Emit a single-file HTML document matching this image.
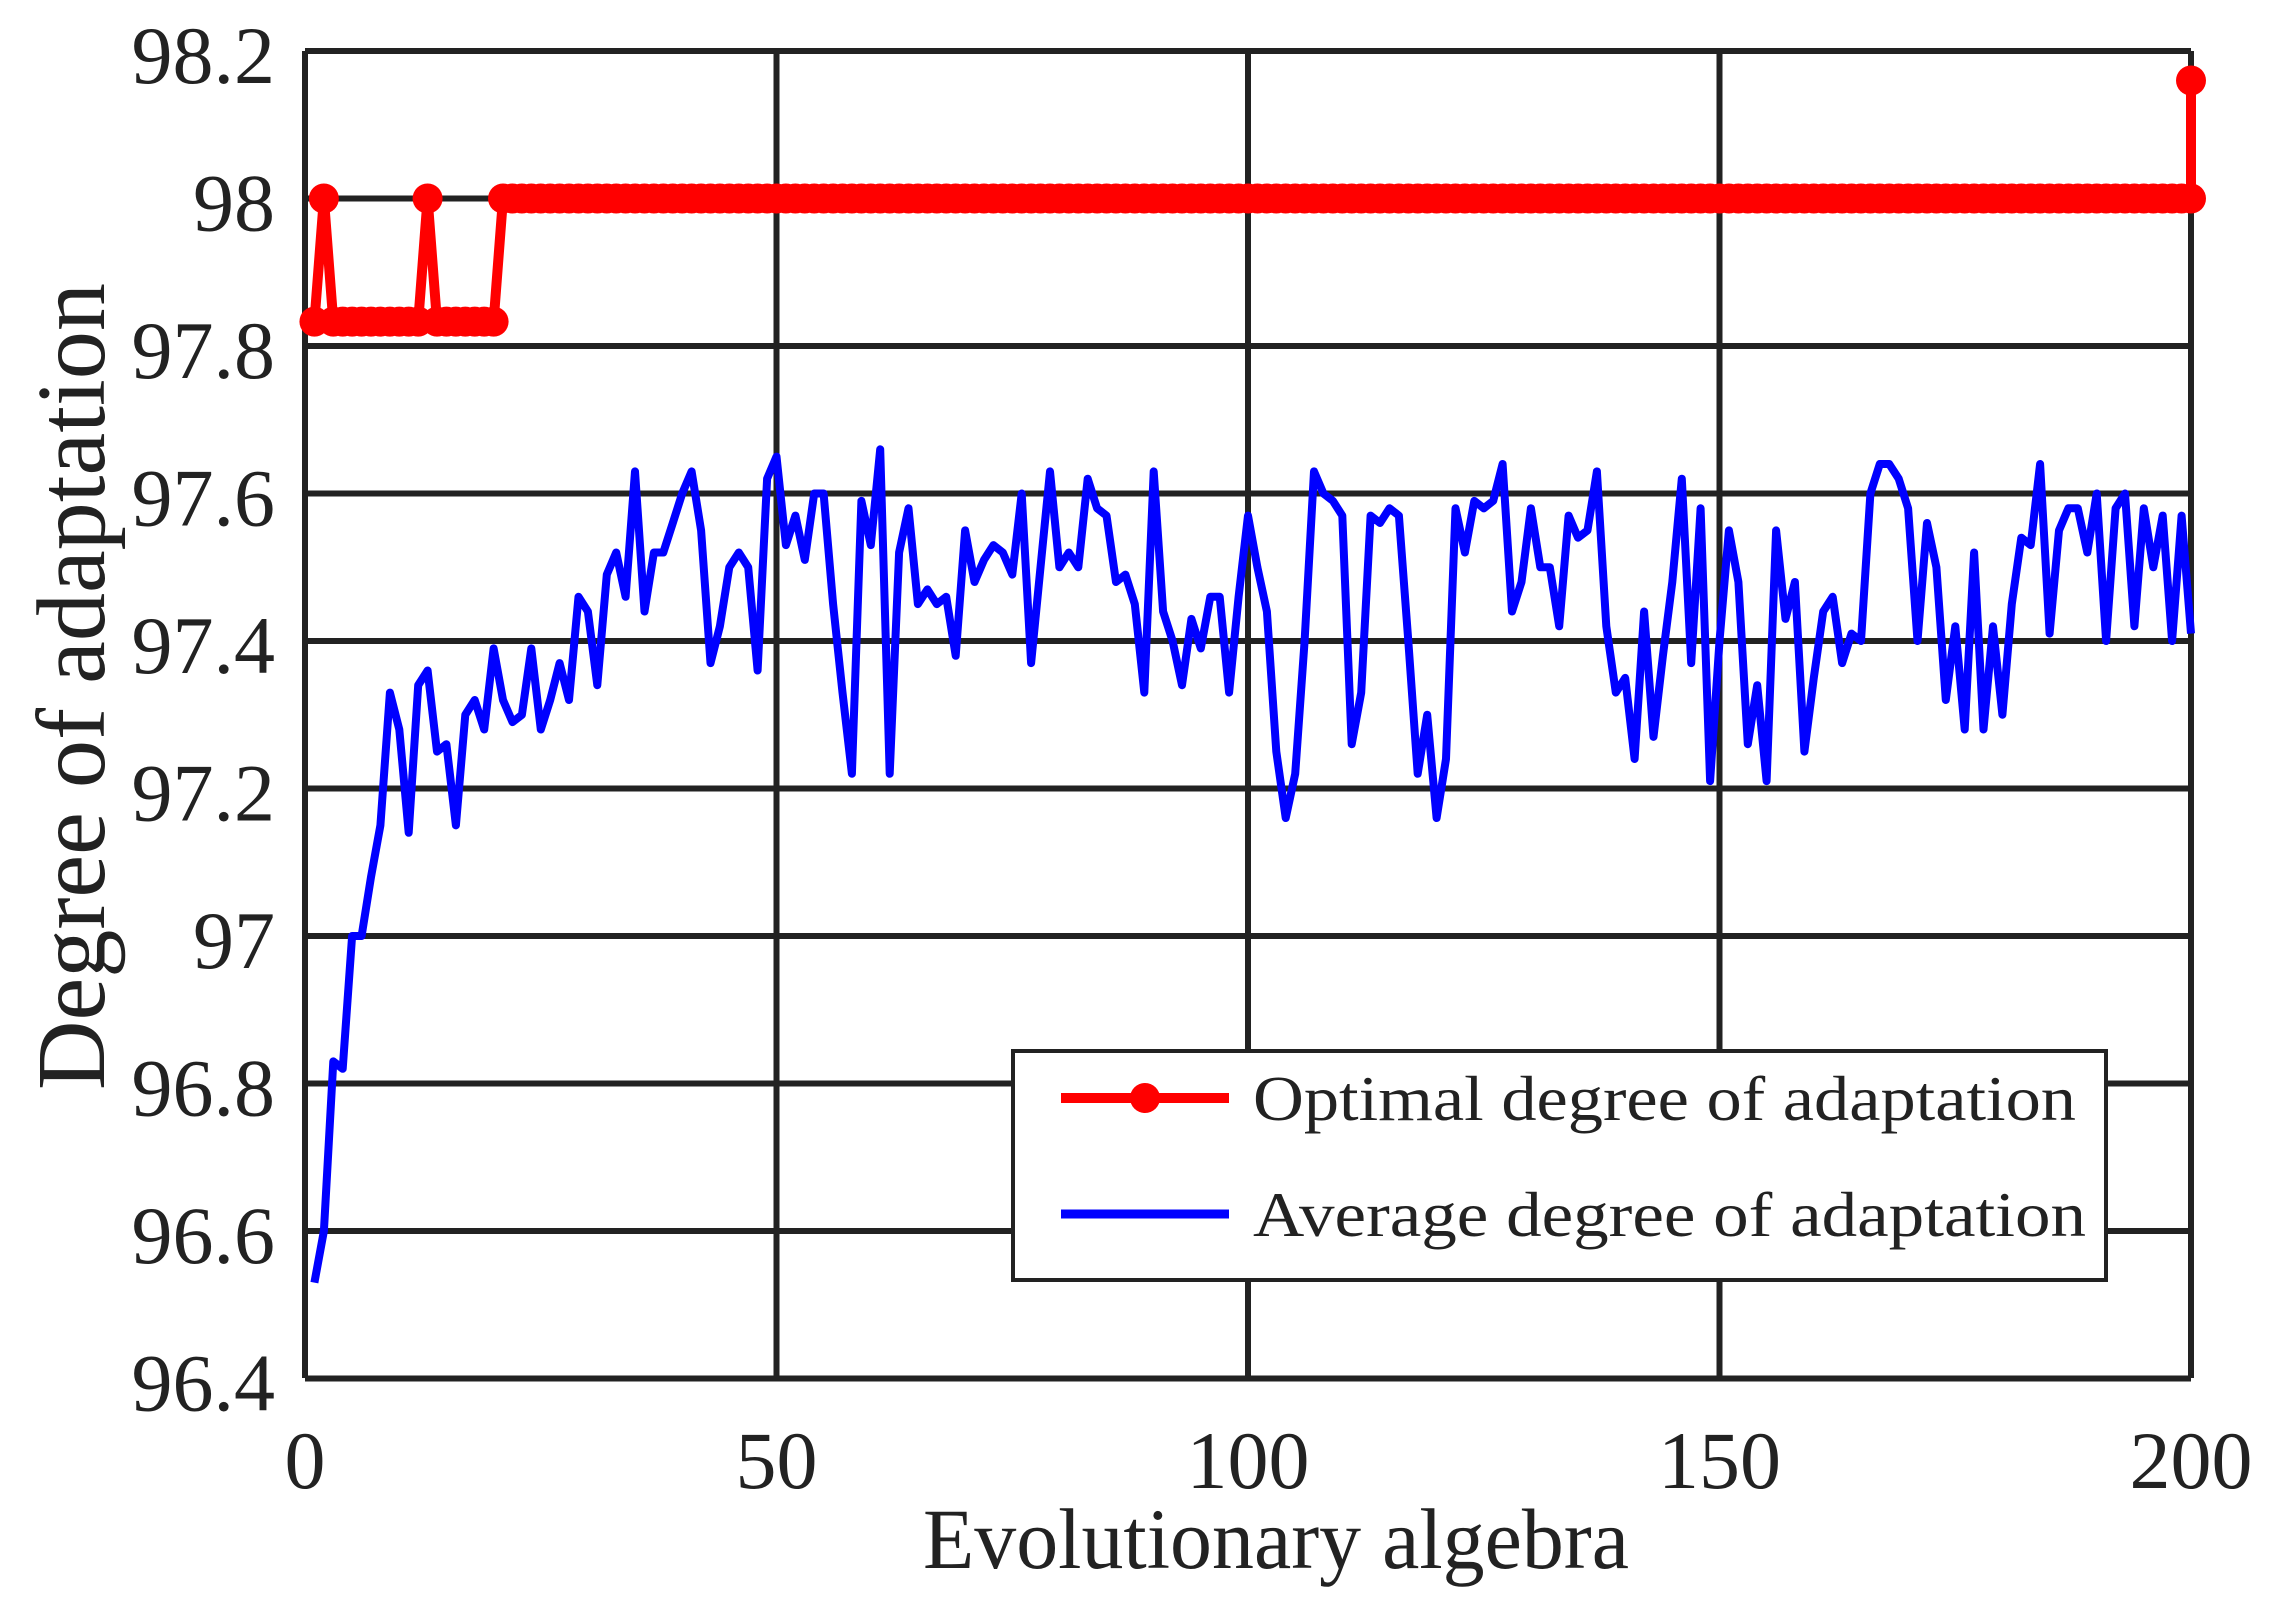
<!DOCTYPE html>
<html><head><meta charset="utf-8"><style>
html,body{margin:0;padding:0;background:#fff;}
svg{display:block;}
text{font-family:"Liberation Serif",serif;fill:#222;}
</style></head><body>
<svg id="s" width="2280" height="1601" viewBox="0 0 2280 1601" xmlns="http://www.w3.org/2000/svg">
<g id="grid" stroke="#222" stroke-width="6" fill="none"></g>
<g id="series"></g>
<rect x="1013" y="1051" width="1093" height="229" fill="#fff" stroke="#222" stroke-width="4"/>
<line x1="1061" y1="1098" x2="1229" y2="1098" stroke="#f00" stroke-width="10"/>
<circle cx="1145" cy="1098" r="15" fill="#f00"/>
<line x1="1061" y1="1214" x2="1229" y2="1214" stroke="#00f" stroke-width="9"/>
<text x="1253" y="1120" font-size="64" textLength="823" lengthAdjust="spacingAndGlyphs">Optimal degree of adaptation</text>
<text x="1253" y="1236" font-size="64" textLength="833" lengthAdjust="spacingAndGlyphs">Average degree of adaptation</text>
<g id="ticks" font-size="82"></g>
<text x="923" y="1568" font-size="86" textLength="706" lengthAdjust="spacingAndGlyphs">Evolutionary algebra</text>
<text transform="translate(104,1090) rotate(-90)" x="0" y="0" font-size="98" textLength="807" lengthAdjust="spacingAndGlyphs">Degree of adaptation</text>
</svg>
<script>
var NS="http://www.w3.org/2000/svg";
function X(g){return 305+g*9.43;}
function Y(v){return 51+(98.2-v)*737.5;}
function el(p,t,a,txt){var e=document.createElementNS(NS,t);for(var k in a)e.setAttribute(k,a[k]);if(txt!=null)e.textContent=txt;p.appendChild(e);return e;}
var grid=document.getElementById('grid'),ticks=document.getElementById('ticks'),ser=document.getElementById('series');
for(var i=0;i<=9;i++){var v=98.2-0.2*i,y=Y(v);
 el(grid,'line',{x1:305,y1:y,x2:2191,y2:y});
 var lab=(Math.round(v*10)/10).toString();
 el(ticks,'text',{x:275,y:y+32,'text-anchor':'end'},lab);}
for(var g=0;g<=200;g+=50){var x=X(g);el(grid,'line',{x1:x,y1:51,x2:x,y2:1378});
 el(ticks,'text',{x:x,y:1488,'text-anchor':'middle'},g.toString());}
var b=[96.53,96.6,96.83,96.82,97.0,97.0,97.08,97.15,97.33,97.28,97.14,97.34,97.36,97.25,97.26,97.15,97.3,97.32,97.28,97.39,97.32,97.29,97.3,97.39,97.28,97.32,97.37,97.32,97.46,97.44,97.34,97.49,97.52,97.46,97.63,97.44,97.52,97.52,97.56,97.6,97.63,97.55,97.37,97.42,97.5,97.52,97.5,97.36,97.62,97.65,97.53,97.57,97.51,97.6,97.6,97.45,97.33,97.22,97.59,97.53,97.66,97.22,97.52,97.58,97.45,97.47,97.45,97.46,97.38,97.55,97.48,97.51,97.53,97.52,97.49,97.6,97.37,97.5,97.63,97.5,97.52,97.5,97.62,97.58,97.57,97.48,97.49,97.45,97.33,97.63,97.44,97.4,97.34,97.43,97.39,97.46,97.46,97.33,97.46,97.57,97.5,97.44,97.25,97.16,97.22,97.4,97.63,97.6,97.59,97.57,97.26,97.33,97.57,97.56,97.58,97.57,97.4,97.22,97.3,97.16,97.24,97.58,97.52,97.59,97.58,97.59,97.64,97.44,97.48,97.58,97.5,97.5,97.42,97.57,97.54,97.55,97.63,97.42,97.33,97.35,97.24,97.44,97.27,97.38,97.48,97.62,97.37,97.58,97.21,97.4,97.55,97.48,97.26,97.34,97.21,97.55,97.43,97.48,97.25,97.35,97.44,97.46,97.37,97.41,97.4,97.6,97.64,97.64,97.62,97.58,97.4,97.56,97.5,97.32,97.42,97.28,97.52,97.28,97.42,97.3,97.45,97.54,97.53,97.64,97.41,97.55,97.58,97.58,97.52,97.6,97.4,97.58,97.6,97.42,97.58,97.5,97.57,97.4,97.57,97.41];
var d='';for(var i=0;i<b.length;i++){d+=(i?'L':'M')+X(i+1).toFixed(1)+' '+Y(b[i]).toFixed(1);}
el(ser,'path',{d:d,fill:'none',stroke:'#00f','stroke-width':8,'stroke-linejoin':'round'});
var r=[];for(var g=1;g<=200;g++){var v;if(g==2||g==13||g>=21)v=98;else v=97.833;r.push([g,v]);}
r.push([200,98.16]);
var d2='';for(var i=0;i<r.length;i++){d2+=(i?'L':'M')+X(r[i][0]).toFixed(1)+' '+Y(r[i][1]).toFixed(1);}
el(ser,'path',{d:d2,fill:'none',stroke:'#f00','stroke-width':10,'stroke-linejoin':'round'});
for(var i=0;i<r.length;i++)el(ser,'circle',{cx:X(r[i][0]),cy:Y(r[i][1]),r:15,fill:'#f00'});
</script>
</body></html>
